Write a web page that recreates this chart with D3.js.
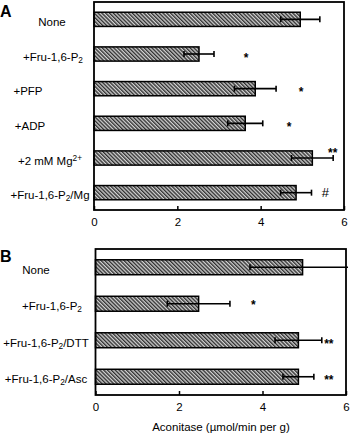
<!DOCTYPE html>
<html>
<head>
<meta charset="utf-8">
<script src="https://cdn.jsdelivr.net/npm/d3@7"></script>
<style>
  body { margin: 0; background: #fff; }
  svg text { font-family: "Liberation Sans", Arial, sans-serif; }
</style>
</head>
<body>
<div id="content"></div>
<script>
// panel A data
const catsA = ["None", "+Fru-1,6-P_2", "+PFP", "+ADP", "+2 mM Mg^{2+}", "+Fru-1,6-P_2/Mg"];
const meansA = [4.95, 2.52, 3.87, 3.63, 5.24, 4.85];
const errsA = [0.47, 0.36, 0.5, 0.42, 0.5, 0.37];
const marksA = ["", "*", "*", "*", "**", "#"];
const markAtA = [0, 3.65, 4.97, 4.68, 5.73, 5.55];

// panel B data
const catsB = ["None", "+Fru-1,6-P_2", "+Fru-1,6-P_2/DTT", "+Fru-1,6-P_2/Asc"];
const meansB = [4.96, 2.47, 4.86, 4.86];
const errsB = [1.26, 0.75, 0.56, 0.37];
const marksB = ["", "*", "**", "**"];
const markAtB = [0, 3.78, 5.59, 5.59];

const ticks = [0, 2, 4, 6];
const xTitle = "Aconitase (\u00b5mol/min per g)";

const W = 350, H = 435;
const svg = d3.select("#content").append("svg")
    .attr("width", W).attr("height", H);

// hatch fill
const P = 2.7;
const pat = svg.append("defs").append("pattern")
    .attr("id", "hatch")
    .attr("patternUnits", "userSpaceOnUse")
    .attr("width", P).attr("height", P)
    .attr("patternTransform", "rotate(-45)");
pat.append("rect").attr("width", P).attr("height", P).attr("fill", "#d2d2d2");
pat.append("line").attr("x1", 0.7).attr("x2", 0.7).attr("y1", 0).attr("y2", P)
    .attr("stroke", "#262626").attr("stroke-width", 1.3);

// write "_x" as subscript and "^{..}" as superscript
function richText(sel, str){
    const parts = str.split(/(_\{[^}]*\}|_.|\^\{[^}]*\}|\^.)/).filter(s => s.length);
    parts.forEach(p => {
        if(p[0] == "_" || p[0] == "^"){
            const t = p.slice(1).replace(/[{}]/g, "");
            sel.append("tspan").text(t)
                .attr("font-size", "0.72em")
                .attr("baseline-shift", p[0] == "_" ? "-25%" : "45%");
        } else {
            sel.append("tspan").text(p);
        }
    });
}

function panel(o){
    const x = d3.scaleLinear().domain([0, 6]).range([o.left, o.right]);
    const y = d3.scaleBand().domain(o.cats).range([o.top, o.bottom])
        .paddingInner(0.59).paddingOuter(0.295);
    const g = svg.append("g");

    // bars
    g.selectAll(".bar").data(o.cats).enter().append("rect")
        .attr("x", x(0))
        .attr("y", d => y(d))
        .attr("width", (d, i) => x(o.means[i]) - x(0))
        .attr("height", y.bandwidth())
        .attr("fill", "url(#hatch)")
        .attr("stroke", "#000").attr("stroke-width", 1.5);

    // error bars
    const lim = o.right + 2;
    o.cats.forEach((c, i) => {
        const cy = y(c) + y.bandwidth() / 2;
        const lo = x(o.means[i] - o.errs[i]);
        const hi = x(o.means[i] + o.errs[i]);
        g.append("line").attr("x1", lo).attr("x2", Math.min(hi, lim))
            .attr("y1", cy).attr("y2", cy)
            .attr("stroke", "#000").attr("stroke-width", 1.6);
        [lo, hi].filter(v => v <= lim).forEach(v => {
            g.append("line").attr("x1", v).attr("x2", v)
                .attr("y1", cy - 3).attr("y2", cy + 3)
                .attr("stroke", "#000").attr("stroke-width", 1.6);
        });
        const m = o.marks[i];
        if(m){
            g.append("text")
                .attr("x", x(o.markAt[i]))
                .attr("y", cy + (m == "#" ? 4.5 : 7.5) + (o.raise[i] || 0))
                .attr("text-anchor", "middle")
                .attr("font-size", m == "#" ? 13 : 12)
                .attr("font-weight", m == "#" ? "normal" : "bold")
                .text(m);
        }
    });

    // category labels
    o.cats.forEach((c, i) => {
        const t = g.append("text")
            .attr("x", o.labelX[i])
            .attr("y", y(c) + y.bandwidth() / 2 + 6.5)
            .attr("text-anchor", "middle")
            .attr("font-size", 11.5);
        richText(t, c);
    });

    // frame
    g.append("rect")
        .attr("x", o.left).attr("y", o.top)
        .attr("width", o.right - o.left).attr("height", o.bottom - o.top)
        .attr("fill", "none").attr("stroke", "#000").attr("stroke-width", 1.8);

    // axis with inward ticks
    const ax = g.append("g")
        .attr("transform", `translate(0,${o.bottom})`)
        .call(d3.axisBottom(x).tickValues(ticks).tickFormat(d3.format("d"))
            .tickSizeInner(-4).tickSizeOuter(0).tickPadding(8));
    ax.select(".domain").remove();
    ax.selectAll("line").attr("stroke-width", 1.5);
    ax.selectAll("text").attr("font-size", 11.5)
        .attr("font-family", "'Liberation Sans', Arial, sans-serif");

    // panel letter
    g.append("text").attr("x", 0).attr("y", o.letterY)
        .attr("font-size", 16).attr("font-weight", "bold").text(o.letter);
}

panel({
    cats: catsA, means: meansA, errs: errsA, marks: marksA, markAt: markAtA,
    left: 94, right: 344, top: 2, bottom: 210,
    labelX: [52, 53, 28, 30, 50, 50],
    raise: [0, 0, 0, 0, -9, 0],
    letter: "A", letterY: 17
});
panel({
    cats: catsB, means: meansB, errs: errsB, marks: marksB, markAt: markAtB,
    left: 95.5, right: 346, top: 249, bottom: 395,
    labelX: [36, 52, 46, 46],
    raise: [0, -2, 0, 0],
    letter: "B", letterY: 262
});

svg.append("text")
    .attr("x", 221).attr("y", 431)
    .attr("text-anchor", "middle")
    .attr("font-size", 11.5)
    .text(xTitle);
</script>
</body>
</html>
